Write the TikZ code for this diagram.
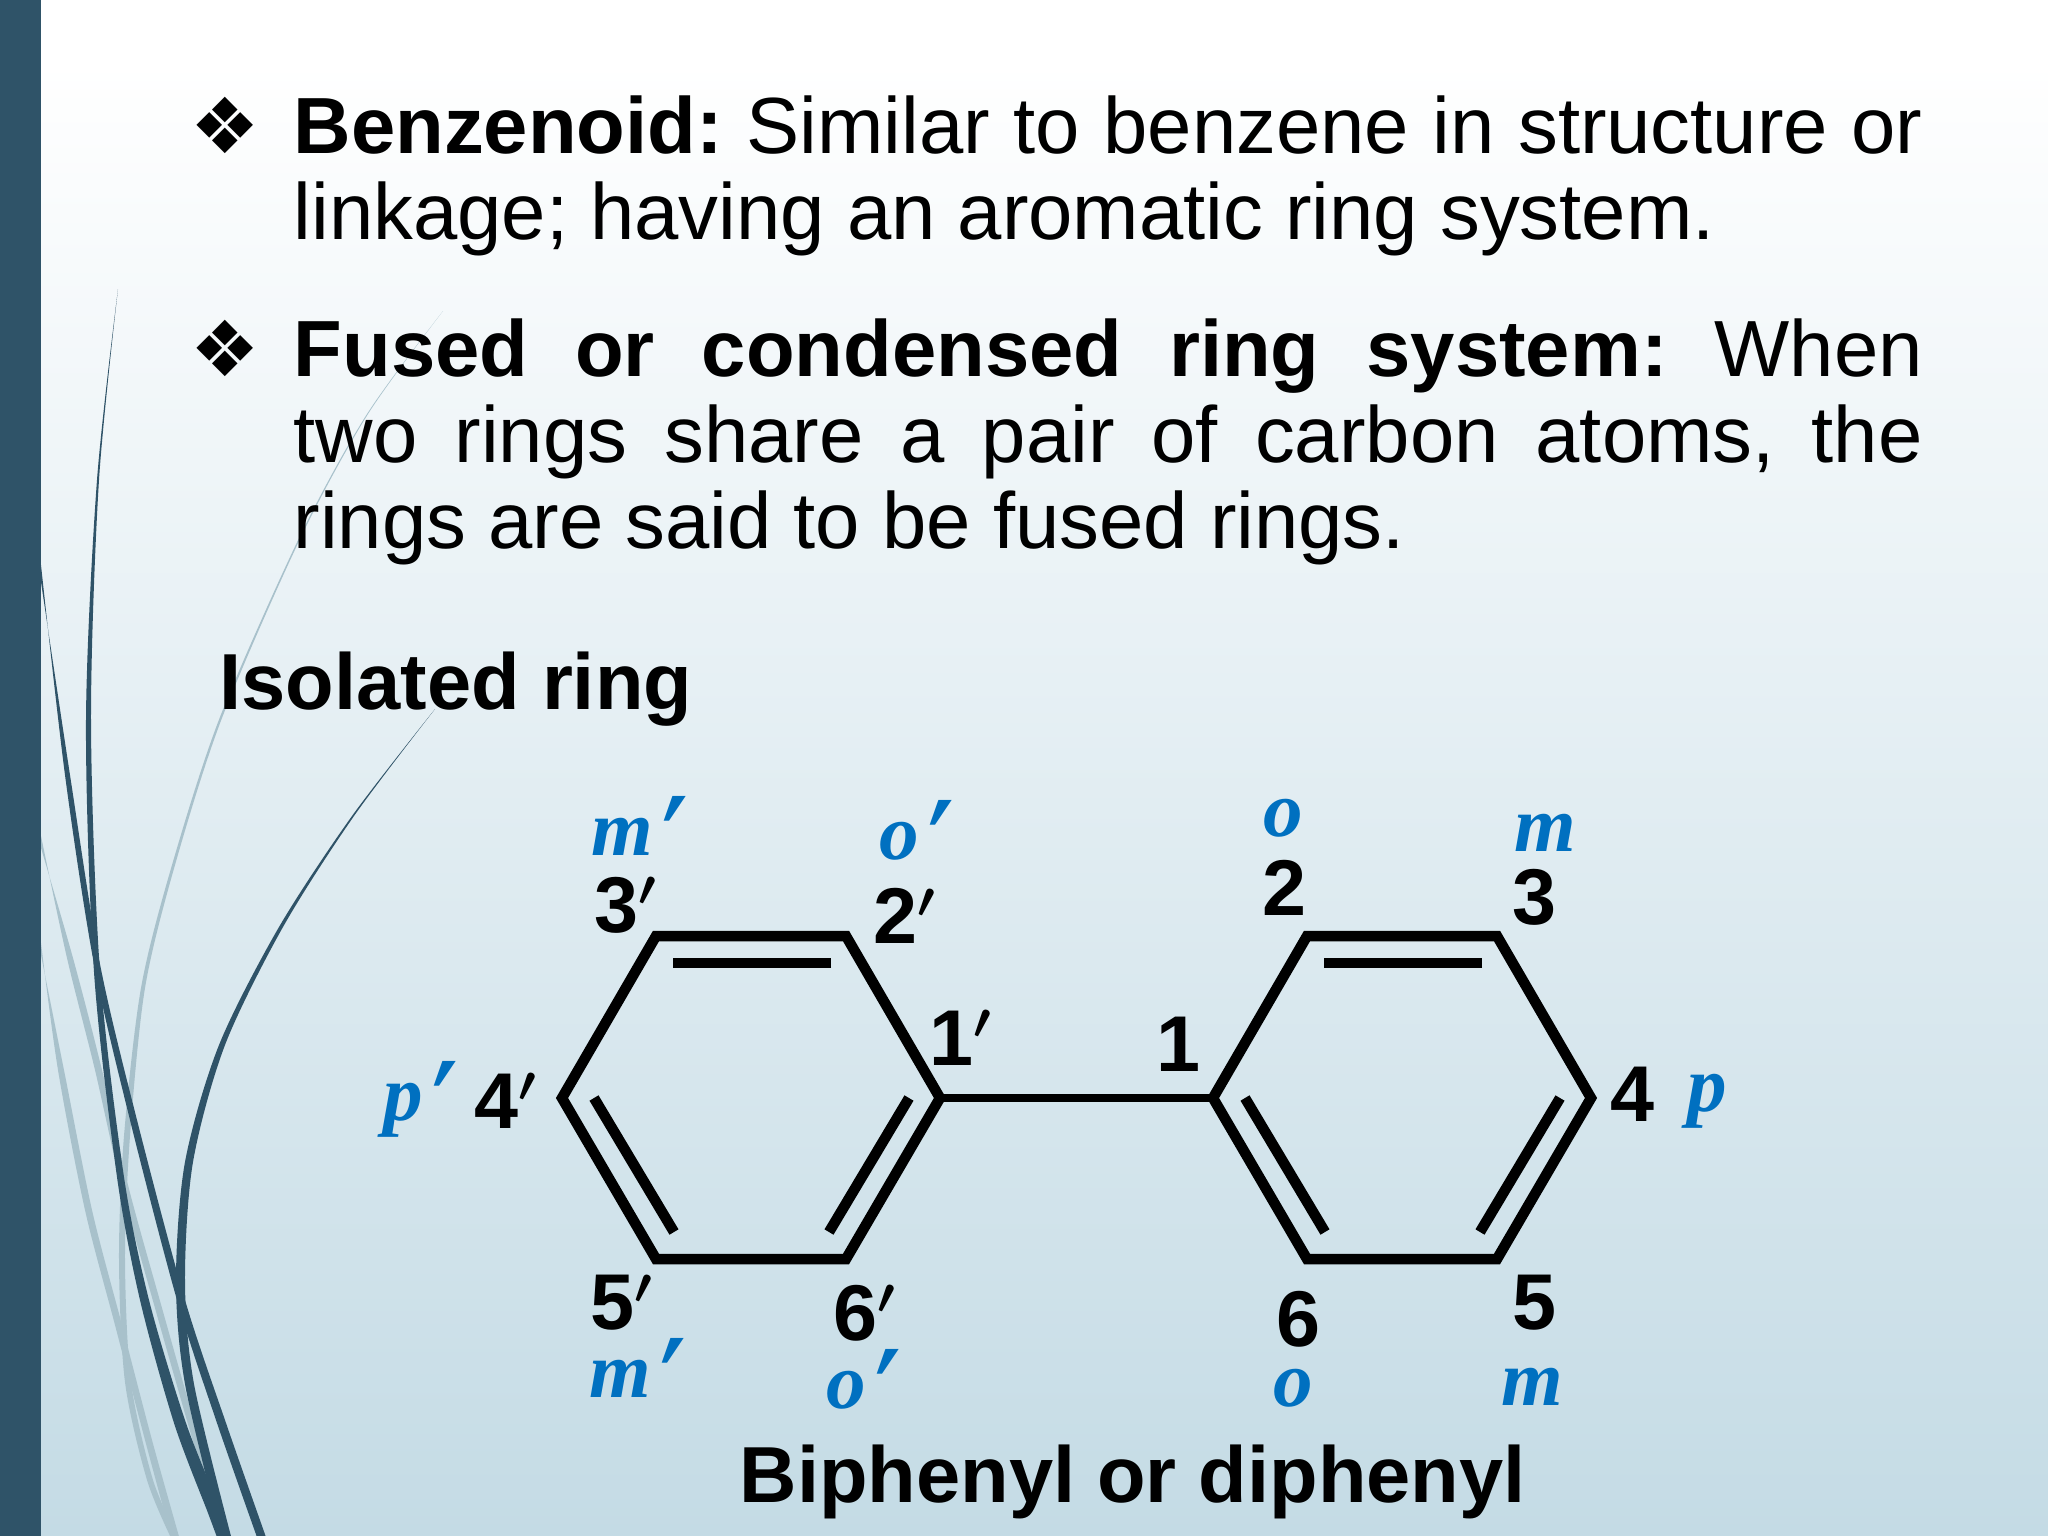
\documentclass[tikz,border=0pt]{standalone}
\usepackage{amsmath}
\usepackage{fontspec}
\setmainfont{Liberation Sans}
\newfontfamily\serifazul{Liberation Serif}
\newfontfamily\serifprima[FakeSlant=0.25]{Liberation Serif}
\newfontfamily\simbolos{DejaVu Sans}
\definecolor{lateral}{HTML}{2F5368}
\definecolor{curvagris}{HTML}{A8C1CB}
\definecolor{fondoabajo}{HTML}{C4DBE5}
\definecolor{azul}{HTML}{0070C0}
\tikzset{
  enlace/.style={line width=0.105cm, line join=miter},
  numero/.style={inner sep=0pt, font=\fontsize{22.5}{24}\selectfont\bfseries},
  posicion/.style={inner sep=0pt, anchor=base, text=azul, font=\fontsize{22.5}{24}\selectfont\serifazul\bfseries\itshape},
  parrafo/.style={inner sep=0pt, anchor=north west, text width=16.28cm, align=justify,
    font=\fontsize{22.65}{24.5}\selectfont\frenchspacing},
  vineta/.style={inner sep=0pt, font=\fontsize{22}{24}\selectfont\simbolos},
  titulo/.style={inner sep=0pt, anchor=base west, font=\fontsize{22.6}{24}\selectfont\bfseries},
}
\newcommand{\prima}{{\boldmath$'$}}
\newcommand{\primaazul}{\hspace{-0.1em}\raisebox{-3pt}{\serifprima\bfseries\fontsize{30}{24}\selectfont ′}}
% hexagon with its three inner bonds
\newcommand{\anillotikz}{
    \coordinate (v1) at (940,1098);
    \coordinate (v2) at (846,936);
    \coordinate (v3) at (656,936);
    \coordinate (v4) at (562,1098);
    \coordinate (v5) at (656,1259);
    \coordinate (v6) at (846,1259);
    \draw[enlace] (v1) -- (v2) -- (v3) -- (v4) -- (v5) -- (v6) -- cycle;
    \coordinate (i1) at (831,963);
    \coordinate (i2) at (673,963);
    \coordinate (i3) at (594,1098);
    \coordinate (i4) at (674,1232);
    \coordinate (i5) at (829,1232);
    \coordinate (i6) at (909,1098);
    \foreach \a/\b in {1/2,3/4,5/6} {
      \draw[enlace] (i\a) -- (i\b);
    }
}
\begin{document}
\begin{tikzpicture}[x=0.01cm, y=-0.01cm] % {{{
\useasboundingbox (0,0) rectangle (2048,1536);
\shade[top color=white, bottom color=fondoabajo] (0,60) rectangle (2048,1536);
\fill[white] (0,0) rectangle (2048,60);
% Curvas {{{
\fill[curvagris] plot[smooth] coordinates {(443,311) (367,414) (300,536) (220,717) (172,865) (141,988) (124,1136) (119,1259) (125,1382) (147,1480) (172,1540)}
  -- plot[smooth] coordinates {(179,1540) (153,1480) (131,1382) (125,1259) (130,1136) (145,988) (175,865) (222,718) (301,537) (368,414) (443,311)} -- cycle;
\fill[curvagris] plot[smooth] coordinates {(41,836) (67,958) (95,1070) (121,1185) (155,1308) (195,1448) (224,1540)}
  -- plot[smooth] coordinates {(232,1540) (202,1448) (162,1308) (128,1185) (102,1070) (73,958) (41,848)} -- cycle;
\fill[curvagris] plot[smooth] coordinates {(41,943) (58,1070) (85,1210) (115,1325) (145,1440) (172,1540)}
  -- plot[smooth] coordinates {(180,1540) (152,1440) (122,1325) (92,1210) (64,1070) (41,955)} -- cycle;
\fill[lateral] plot[smooth] coordinates {(118,289) (97,480) (86,720) (94,972) (117,1177) (140,1300) (174,1423) (208,1513) (218,1540)}
  -- plot[smooth] coordinates {(232,1540) (222,1513) (186,1423) (149,1300) (124,1177) (100,972) (91,720) (99,480) (118,289)} -- cycle;
\fill[lateral] plot[smooth] coordinates {(41,565) (65,775) (94,964) (130,1120) (177,1300) (217,1423) (258,1540)}
  -- plot[smooth] coordinates {(267,1540) (226,1423) (185,1300) (137,1120) (100,964) (70,775) (41,582)} -- cycle;
\fill[lateral] plot[smooth] coordinates {(435,709) (352,816) (279,927) (219,1045) (185,1162) (176,1280) (185,1384) (222,1540)}
  -- plot[smooth] coordinates {(232,1540) (194,1384) (185,1280) (193,1162) (225,1045) (283,927) (354,816) (435,709)} -- cycle;
\fill[lateral] (0,0) rectangle (41,1536);
% }}}
% Texto {{{
\node[vineta] (vineta1) at (225,125) {❖};
\node[parrafo] (benceno) at (293,95) {\textbf{Benzenoid:} Similar to benzene in structure or linkage; having an aromatic ring system.};
\node[vineta] (vineta2) at (225,348) {❖};
\node[parrafo] (fusion) at (293,318) {\textbf{Fused or condensed ring system:} When\linebreak two rings share a pair of carbon atoms, the rings are said to be fused rings.};
\node[titulo] (aislado) at (219,709) {Isolated ring};
\node[titulo] (bifenilo) at (739,1502) {Biphenyl or diphenyl};
% }}}
\begin{scope}[name prefix=izq] % Anillo primado {{{
\anillotikz{}
\end{scope} % }}}
\begin{scope}[shift={(651,0)}, name prefix=der] % Anillo {{{
\anillotikz{}
\end{scope} % }}}
\draw[line width=0.08cm] (izqv1) -- (derv4);
% Numeros {{{
\foreach \n/\x/\y/\t in {3p/626/905/3\prima, 2p/905/916/2\prima, 1p/961/1038/1\prima, 4p/506/1101/4\prima, 5p/622/1303/5\prima, 6p/865/1313/6\prima,
    1/1178/1044/1, 2/1284/888/2, 3/1534/897/3, 4/1632/1094/4, 5/1534/1303/5, 6/1298/1319/6} {
  \node[numero] (num\n) at (\x,\y) {\t};
}
\foreach \n/\x/\y/\t in {m1/633/855/m\primaazul, o1/910/859/o\primaazul, p1/414/1120/p\primaazul, m2/631/1397/m\primaazul, o2/857/1408/o\primaazul,
    m3/1545/851/m, o3/1283/836/o, p3/1707/1111/p, m4/1532/1405/m, o4/1293/1406/o} {
  \node[posicion] (pos\n) at (\x,\y) {\t};
}
% }}}
\end{tikzpicture} % }}}
\end{document}
